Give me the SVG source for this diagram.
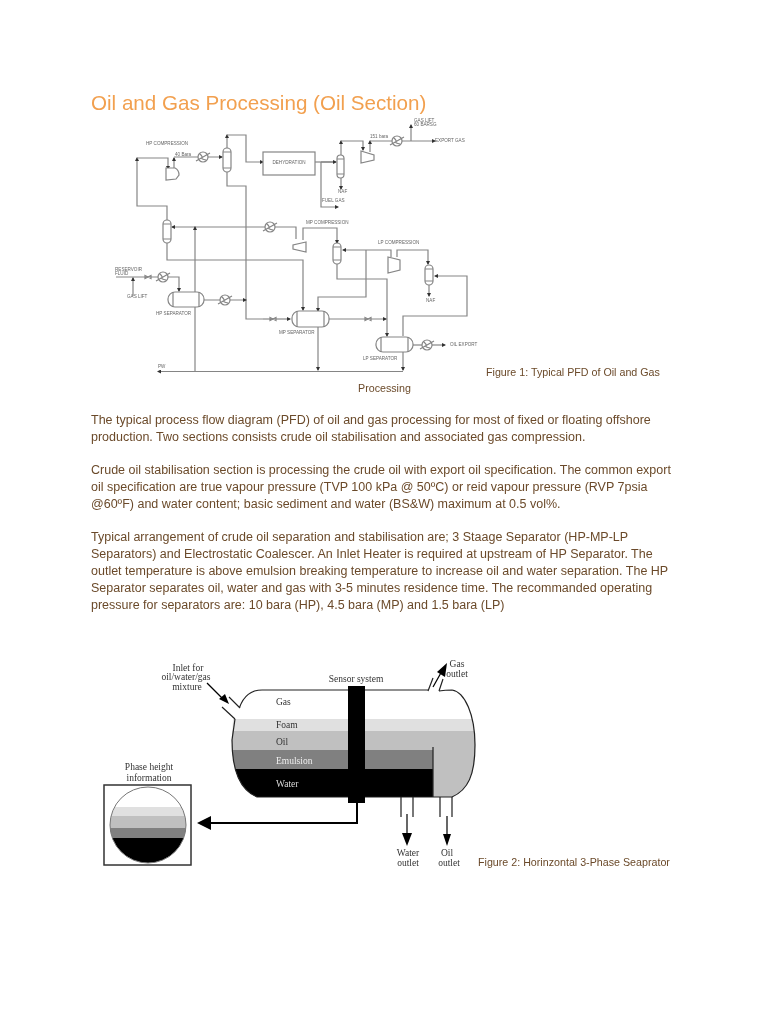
<svg xmlns="http://www.w3.org/2000/svg" width="768" height="1024" viewBox="0 0 768 1024">
<style>
.t{font-family:"Liberation Sans",Arial,sans-serif;font-size:12.5px;fill:#6b4a2a}
.c{font-family:"Liberation Sans",Arial,sans-serif;font-size:10.7px;fill:#6b4a2a}
.h{font-family:"Liberation Sans",Arial,sans-serif;font-size:20.6px;fill:#f2a04f}
.p{fill:none;stroke:#858585;stroke-width:1.2}
.e{fill:#fff;stroke:#858585;stroke-width:1.2}
.l{font-family:"Liberation Sans",Arial,sans-serif;font-size:4.6px;fill:#666}
.s{font-family:"Liberation Serif","Times New Roman",serif;font-size:9.5px;fill:#333;text-anchor:middle}
.g{font-family:"Liberation Serif","Times New Roman",serif;font-size:9.5px;fill:#333}
.b{fill:none;stroke:#222;stroke-width:1.2}
</style>
<defs>
<filter id="bl" filterUnits="userSpaceOnUse" x="0" y="0" width="768" height="1024"><feGaussianBlur stdDeviation="0.35"/></filter>
<marker id="a" markerWidth="4" markerHeight="4" refX="3" refY="2" orient="auto" markerUnits="userSpaceOnUse"><path d="M0,0L4,2L0,4z" fill="#333"/></marker>
<symbol id="hx" overflow="visible"><circle r="5" class="e"/><path class="p" d="M-7,4L7,-4M-3,-3Q0,0-1,1T3,3"/></symbol>
<symbol id="vv" overflow="visible"><path class="p" d="M-3,-1.500L3,1.500V-1.500L-3,1.500z"/></symbol>
<clipPath id="v"><path d="M239.500,707.500C244,695 252,690 262,690H452C465,692 475,715 475,745C475,775 468,790 452,797H257C240,790 232,770 232,740L233,719z"/></clipPath>
<clipPath id="c"><circle cx="148" cy="825" r="38"/></clipPath>
</defs>
<rect width="768" height="1024" fill="#fff"/>
<g filter="url(#bl)">
<text class="h" x="91" y="110">Oil and Gas Processing (Oil Section)</text>
<g id="pfd-connectors">
<path class="p" marker-end="url(#a)" d="M167,220V206H137V158"/>
<path class="p" marker-end="url(#a)" d="M137,158H168V169"/>
<path class="p" marker-end="url(#a)" d="M174,170V158"/>
<path class="p" marker-end="url(#a)" d="M174,157H222"/>
<path class="p" marker-end="url(#a)" d="M227,148V135"/>
<path class="p" marker-end="url(#a)" d="M227,135H246V162H263"/>
<path class="p" d="M227,172V186H246V319H263"/>
<path class="p" marker-end="url(#a)" d="M263,319H290"/>
<path class="p" marker-end="url(#a)" d="M296,239V227H172"/>
<path class="p" marker-end="url(#a)" d="M195,371V227"/>
<path class="p" marker-end="url(#a)" d="M167,243V260H303V310"/>
<path class="p" marker-end="url(#a)" d="M116,277H179V291"/>
<path class="p" marker-end="url(#a)" d="M133,296V278"/>
<path class="p" marker-end="url(#a)" d="M204,300H246"/>
<path class="p" d="M315,162H335"/>
<path class="p" marker-end="url(#a)" d="M321,162H336"/>
<path class="p" marker-end="url(#a)" d="M321,162V207H338"/>
<path class="p" marker-end="url(#a)" d="M341,178V189"/>
<path class="p" marker-end="url(#a)" d="M341,155V141"/>
<path class="p" marker-end="url(#a)" d="M341,141H363V150"/>
<path class="p" marker-end="url(#a)" d="M370,152V141"/>
<path class="p" marker-end="url(#a)" d="M370,141H435"/>
<path class="p" marker-end="url(#a)" d="M411,141V125"/>
<path class="p" marker-end="url(#a)" d="M303,240V228H337V243"/>
<path class="p" marker-end="url(#a)" d="M391,257V250H343"/>
<path class="p" marker-end="url(#a)" d="M397,257V250H428V264"/>
<path class="p" marker-end="url(#a)" d="M366,250V297H318V311"/>
<path class="p" marker-end="url(#a)" d="M337,264V279H387V336"/>
<path class="p" marker-end="url(#a)" d="M329,319H386"/>
<path class="p" marker-end="url(#a)" d="M429,285V296"/>
<path class="p" marker-end="url(#a)" d="M403,336V316H467V276H435"/>
<path class="p" marker-end="url(#a)" d="M413,345H445"/>
<path class="p" marker-end="url(#a)" d="M403,352V370"/>
<path class="p" marker-end="url(#a)" d="M318,327V370"/>
<path class="p" marker-end="url(#a)" d="M403,371.500H158"/>
</g>
<g id="hp-scrubber"><rect class="e" x="163" y="220" width="8" height="23" rx="4"/><path class="p" d="M163,224H171M163,239H171"/></g>
<g id="hp-top-scrubber"><rect class="e" x="223" y="148" width="8" height="24" rx="4"/><path class="p" d="M223,152H231M223,168H231"/></g>
<g id="export-scrubber"><rect class="e" x="337" y="155" width="7" height="23" rx="3.500"/><path class="p" d="M337,159H344M337,174H344"/></g>
<g id="mp-scrubber"><rect class="e" x="333" y="243" width="8" height="21" rx="4"/><path class="p" d="M333,247H341M333,260H341"/></g>
<g id="lp-scrubber"><rect class="e" x="425" y="265" width="8" height="20" rx="4"/><path class="p" d="M425,269H433M425,281H433"/></g>
<g id="hp-comp"><path class="e" d="M166,168H175Q179,170 179,175L176,179L166,180z"/></g>
<g id="export-comp"><path class="e" d="M361,151L374,155V160L361,163z"/></g>
<g id="mp-comp"><path class="e" d="M306,242L293,245V249L306,252z"/></g>
<g id="lp-comp"><path class="e" d="M388,257L400,260V270L388,273z"/></g>
<g id="dehydration"><rect class="e" x="263" y="152" width="52" height="23"/><text class="l" x="289" y="164" text-anchor="middle">DEHYDRATION</text></g>
<g id="hp-separator"><rect class="e" x="168" y="292" width="36" height="15" rx="7"/><path class="p" d="M173,292V307M199,292V307"/></g>
<g id="mp-separator"><rect class="e" x="292" y="311" width="37" height="16" rx="7"/><path class="p" d="M297,311V327M324,311V327"/></g>
<g id="lp-separator"><rect class="e" x="376" y="337" width="37" height="15" rx="7"/><path class="p" d="M381,337V352M408,337V352"/></g>
<g id="exchangers">
<use href="#hx" x="203" y="157"/><use href="#hx" x="270" y="227"/><use href="#hx" x="397" y="141"/><use href="#hx" x="163" y="277"/><use href="#hx" x="225" y="300"/><use href="#hx" x="427" y="345"/>
</g>
<g id="valves"><use href="#vv" x="148" y="277"/><use href="#vv" x="273" y="319"/><use href="#vv" x="368" y="319"/></g>
<g id="pfd-labels">
<text class="l" x="146" y="145">HP COMPRESSION</text>
<text class="l" x="175" y="156">40 Bara</text>
<text class="l" x="370" y="138">151 bara</text>
<text class="l" x="414" y="122">GAS LIFT</text>
<text class="l" x="414" y="126">60 BARSG</text>
<text class="l" x="435" y="142">EXPORT GAS</text>
<text class="l" x="338" y="193">NAF</text>
<text class="l" x="322" y="202">FUEL GAS</text>
<text class="l" x="306" y="224">MP COMPRESSION</text>
<text class="l" x="378" y="244">LP COMPRESSION</text>
<text class="l" x="115" y="271">RESERVOIR</text>
<text class="l" x="115" y="275">FLUID</text>
<text class="l" x="127" y="298">GAS LIFT</text>
<text class="l" x="156" y="315">HP SEPARATOR</text>
<text class="l" x="279" y="334">MP SEPARATOR</text>
<text class="l" x="363" y="360">LP SEPARATOR</text>
<text class="l" x="426" y="302">NAF</text>
<text class="l" x="450" y="346">OIL EXPORT</text>
<text class="l" x="158" y="368">PW</text>
</g>
<text class="c" x="486" y="376">Figure 1: Typical PFD of Oil and Gas</text>
<text class="c" x="358" y="392">Processing</text>
<g id="body">
<text class="t" x="91" y="424">The typical process flow diagram (PFD) of oil and gas processing for most of fixed or floating offshore</text>
<text class="t" x="91" y="441">production. Two sections consists crude oil stabilisation and associated gas compression.</text>
<text class="t" x="91" y="474">Crude oil stabilisation section is processing the crude oil with export oil specification. The common export</text>
<text class="t" x="91" y="491">oil specification are true vapour pressure (TVP 100 kPa @ 50ºC) or reid vapour pressure (RVP 7psia</text>
<text class="t" x="91" y="508">@60ºF) and water content; basic sediment and water (BS&amp;W) maximum at 0.5 vol%.</text>
<text class="t" x="91" y="541">Typical arrangement of crude oil separation and stabilisation are; 3 Staage Separator (HP-MP-LP</text>
<text class="t" x="91" y="558">Separators) and Electrostatic Coalescer. An Inlet Heater is required at upstream of HP Separator. The</text>
<text class="t" x="91" y="575">outlet temperature is above emulsion breaking temperature to increase oil and water separation. The HP</text>
<text class="t" x="91" y="592">Separator separates oil, water and gas with 3-5 minutes residence time. The recommanded operating</text>
<text class="t" x="91" y="609">pressure for separators are: 10 bara (HP), 4.5 bara (MP) and 1.5 bara (LP)</text>
</g>
<g id="vessel">
<g clip-path="url(#v)">
<rect x="225" y="719" width="255" height="12" fill="#e0e0e0"/>
<rect x="225" y="731" width="255" height="70" fill="#c0c0c0"/>
<rect x="225" y="750" width="208" height="19" fill="#808080"/>
<rect x="225" y="769" width="208" height="30" fill="#000"/>
</g>
<path class="b" d="M239.500,707.500C244,695 252,690 262,690H428M439,691C445,690 448,690 452,690C465,692 475,715 475,745C475,775 468,790 452,797H257C240,790 232,770 232,740L235,719"/>
<path class="b" d="M433,747V797M229,697L240,708M222,707L235,719M428,691L433,678M439,691L443,679"/>
<text class="g" x="276" y="705">Gas</text>
<text class="g" x="276" y="728">Foam</text>
<text class="g" x="276" y="745">Oil</text>
<text class="g" x="276" y="764" style="fill:#eee">Emulsion</text>
<text class="g" x="276" y="787" style="fill:#ddd">Water</text>
</g>
<g id="sensor"><rect x="348" y="686" width="17" height="117" fill="#000"/><text class="s" x="356" y="682">Sensor system</text></g>
<g id="phase-display">
<rect x="104" y="785" width="87" height="80" fill="#fff" stroke="#333" stroke-width="1.500"/>
<g clip-path="url(#c)">
<rect x="105" y="807" width="85" height="9" fill="#e0e0e0"/>
<rect x="105" y="816" width="85" height="12" fill="#c0c0c0"/>
<rect x="105" y="828" width="85" height="10" fill="#808080"/>
<rect x="105" y="838" width="85" height="26" fill="#000"/>
</g>
<circle cx="148" cy="825" r="38" fill="none" stroke="#777"/>
<text class="s" x="149" y="770">Phase height</text>
<text class="s" x="149" y="781">information</text>
</g>
<g id="fig2-connectors">
<path d="M357,803V823H208" fill="none" stroke="#000" stroke-width="2"/><path d="M197,823L211,816V830z" fill="#000"/>
<path d="M207,683L224,700" stroke="#000" stroke-width="1.200"/><path d="M229,704L219,699L225,694z" fill="#000"/>
<path d="M433,687L442,671" stroke="#000" stroke-width="1.200"/><path d="M447,663L445,677L437,672z" fill="#000"/>
<path class="b" d="M401,797V817M413,797V817M440,797V817M452,797V817"/>
<path d="M407,814V835" stroke="#000" stroke-width="1.200"/><path d="M407,846L402,833H412z" fill="#000"/>
<path d="M447,816V835" stroke="#000" stroke-width="1.200"/><path d="M447,846L443,834H451z" fill="#000"/>
</g>
<g id="fig2-labels">
<text class="s" x="188" y="671">Inlet for</text>
<text class="s" x="186" y="680">oil/water/gas</text>
<text class="s" x="187" y="690">mixture</text>
<text class="s" x="457" y="667">Gas</text>
<text class="s" x="457" y="677">outlet</text>
<text class="s" x="408" y="856">Water</text>
<text class="s" x="408" y="866">outlet</text>
<text class="s" x="447" y="856">Oil</text>
<text class="s" x="449" y="866">outlet</text>
</g>
<text class="c" x="478" y="866">Figure 2: Horinzontal 3-Phase Seaprator</text>
</g>
</svg>
